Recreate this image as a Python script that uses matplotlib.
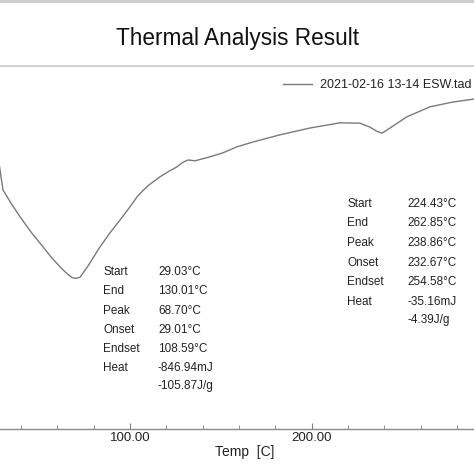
import matplotlib
matplotlib.use("Agg")
import matplotlib.pyplot as plt
from matplotlib.lines import Line2D

plt.rcParams['font.family'] = ['Liberation Sans', 'DejaVu Sans']

# DSC curve (temperature in C, heat flow in mW)
temp = [26.8, 28.45, 30.1, 34.5, 39.5, 45.5, 52.1, 57.0, 61.5, 64.8, 68.1, 70.3,
        72.5, 76.9, 83.5, 89.0, 94.5, 99.5, 103.9, 107.0, 110.0, 113.5, 116.5,
        121.5, 125.9, 129.0, 131.9, 135.8, 144.0, 151.2, 158.9, 167.7, 182.6,
        199.1, 215.6, 226.6, 232.1, 235.8, 238.7, 243.1, 252.4, 265.1, 277.8,
        290.4]
heat = [-1.20, -1.75, -2.25, -2.58, -2.92, -3.30, -3.67, -3.95, -4.17, -4.32,
        -4.44, -4.46, -4.43, -4.15, -3.67, -3.32, -3.00, -2.70, -2.42, -2.27,
        -2.14, -2.02, -1.92, -1.78, -1.67, -1.56, -1.50, -1.52, -1.42, -1.32,
        -1.17, -1.05, -0.87, -0.70, -0.57, -0.58, -0.68, -0.78, -0.83, -0.70,
        -0.42, -0.17, -0.05, 0.03]

series_label = "2021-02-16 13-14 ESW.tad"

peak1_names = ["Start", "End", "Peak", "Onset", "Endset", "Heat", ""]
peak1_values = ["29.03°C", "130.01°C", "68.70°C", "29.01°C", "108.59°C",
                "-846.94mJ", "-105.87J/g"]
peak2_names = ["Start", "End", "Peak", "Onset", "Endset", "Heat", ""]
peak2_values = ["224.43°C", "262.85°C", "238.86°C", "232.67°C", "254.58°C",
                "-35.16mJ", "-4.39J/g"]

W = H = 474
fig = plt.figure(figsize=(4.74, 4.74), dpi=100)

def fx(px):
    return px / W

def fy(py):
    return 1 - py / H

# plot area: top edge at y=66 px, axis line at y=429 px
ax = fig.add_axes([0, fy(429), 1, fy(66) - fy(429)])
ax.plot(temp, heat, color='#7a7a7a', linewidth=1.0, label=series_label)

# 100 C sits at x=130 px, 200 C at x=311.7 px
px_per_deg = (311.7 - 130) / 100
ax.set_xlim(100 - 130 / px_per_deg, 100 + (W - 130) / px_per_deg)
ax.set_ylim(-8.225, 0.85)

ax.set_xticks([100, 200])
ax.set_xticklabels(["100.00", "200.00"])
ax.set_xticks(range(40, 300, 20), minor=True)
ax.set_yticks([])
ax.tick_params(axis='x', which='major', direction='in', length=4.5, width=0.8,
               color='#808080', labelsize=9.5, pad=2, labelcolor='#222222')
ax.tick_params(axis='x', which='minor', direction='in', length=3, width=0.7,
               color='#909090')

for side in ('left', 'right'):
    ax.spines[side].set_visible(False)
ax.spines['bottom'].set_color('#8a8a8a')
ax.spines['bottom'].set_linewidth(1.0)
ax.spines['top'].set_color('#c8c8c8')
ax.spines['top'].set_linewidth(1.2)

ax.set_xlabel("Temp  [C]", fontsize=10, color='#222222')
ax.xaxis.set_label_coords(245 / W, -(452 - 429) / (429 - 66), transform=ax.transAxes)
ax.xaxis.label.set_va('center')

fig.text(0.5, fy(38), "Thermal Analysis Result", fontsize=16.3, ha='center',
         va='center', color='#111111')

# thin frame line at very top of image
fig.add_artist(Line2D([0, 1], [fy(1), fy(1)], color='#cccccc', linewidth=2))

leg = ax.legend(loc='center left', bbox_to_anchor=(fx(283), fy(85)),
                bbox_transform=fig.transFigure, frameon=False, fontsize=9,
                handlelength=2.35, handletextpad=0.6, borderpad=0,
                borderaxespad=0)
for t in leg.get_texts():
    t.set_color('#222222')

def table(names, values, x_name, x_val, rows):
    for name, val, y in zip(names, values, rows):
        if name:
            fig.text(fx(x_name), fy(y), name, fontsize=8.5, va='center',
                     color='#222222')
        fig.text(fx(x_val), fy(y), val, fontsize=8.5, va='center',
                 color='#222222')

table(peak1_names, peak1_values, 103, 158, [272, 291, 311, 330, 349, 368, 386])
table(peak2_names, peak2_values, 347, 407, [204, 223, 243, 263, 282, 302, 320])

fig.savefig("out.png", dpi=100)
